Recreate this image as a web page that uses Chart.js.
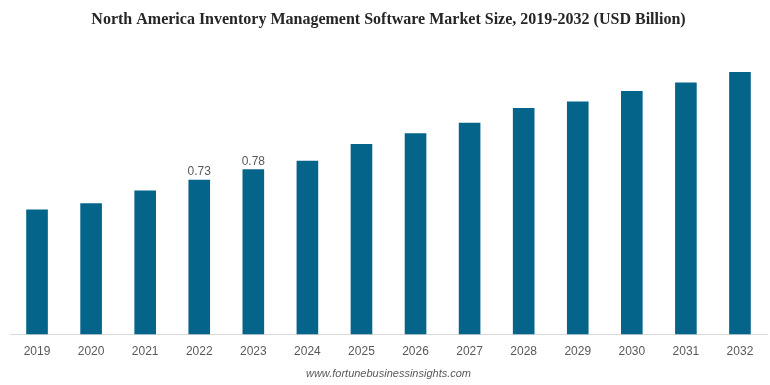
<!DOCTYPE html>
<html>
<head>
<meta charset="utf-8">
<script src="https://cdn.jsdelivr.net/npm/chart.js@4/dist/chart.umd.min.js"></script>
<style>
    html, body { margin: 0; padding: 0; background: #fff; }
    #wrap { width: 770px; height: 385px; }
</style>
</head>
<body>
<div id="wrap"><canvas id="marketChart"></canvas></div>
<script>
const years = ['2019', '2020', '2021', '2022', '2023', '2024', '2025', '2026', '2027', '2028', '2029', '2030', '2031', '2032'];
const marketSize = [0.59, 0.62, 0.68, 0.73, 0.78, 0.82, 0.90, 0.95, 1.00, 1.07, 1.10, 1.15, 1.19, 1.24];
const labelledYears = ['2022', '2023'];

/* value labels only for the highlighted years */
const valueLabels = {
    id: 'valueLabels',
    afterDatasetsDraw(chart) {
        const ctx = chart.ctx;
        const meta = chart.getDatasetMeta(0);
        ctx.save();
        ctx.font = '12px "Liberation Sans", Arial, sans-serif';
        ctx.fillStyle = '#595959';
        ctx.textAlign = 'center';
        ctx.textBaseline = 'bottom';
        meta.data.forEach(function (bar, i) {
            if (labelledYears.indexOf(years[i]) === -1) return;
            ctx.fillText(marketSize[i].toFixed(2), bar.x, bar.y - 2);
        });
        ctx.restore();
    }
};

new Chart(document.getElementById('marketChart'), {
    type: 'bar',
    data: {
        labels: years,
        datasets: [{
            data: marketSize,
            backgroundColor: '#05648a',
            barPercentage: 0.8,
            categoryPercentage: 0.5
        }]
    },
    options: {
        responsive: true,
        maintainAspectRatio: false,
        animation: false,
        layout: { padding: { left: 10, right: 3, top: 0, bottom: 4 } },
        plugins: {
            legend: { display: false },
            tooltip: { enabled: false },
            title: {
                display: true,
                text: 'North America Inventory Management Software Market Size, 2019-2032 (USD Billion)',
                color: '#262626',
                font: { family: '"Liberation Serif", "Times New Roman", serif', size: 16, weight: 'bold' },
                padding: { top: 10, bottom: 30 }
            },
            subtitle: {
                display: true,
                position: 'bottom',
                text: 'www.fortunebusinessinsights.com',
                color: '#595959',
                font: { family: '"Liberation Sans", Arial, sans-serif', size: 11, style: 'italic' },
                padding: { top: 7, bottom: 0 }
            }
        },
        scales: {
            x: {
                grid: { display: false },
                border: { color: '#d9d9d9' },
                ticks: {
                    color: '#595959',
                    font: { family: '"Liberation Sans", Arial, sans-serif', size: 12 },
                    padding: 2
                }
            },
            y: {
                display: false,
                min: 0,
                max: 1.3
            }
        }
    },
    plugins: [valueLabels]
});
</script>
</body>
</html>
